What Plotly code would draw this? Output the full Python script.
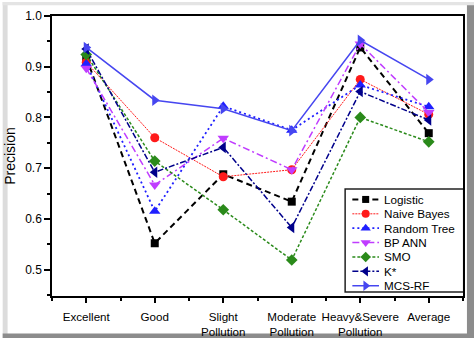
import plotly.graph_objects as go

categories = ["Excellent", "Good", "Slight<br>Pollution", "Moderate<br>Pollution",
              "Heavy&Severe<br>Pollution", "Average"]

logistic = [0.918, 0.552, 0.688, 0.634, 0.938, 0.769]
naive_bayes = [0.909, 0.760, 0.683, 0.697, 0.875, 0.806]
random_tree = [0.906, 0.615, 0.822, 0.775, 0.864, 0.821]
bp_ann = [0.897, 0.667, 0.759, 0.697, 0.945, 0.810]
smo = [0.924, 0.714, 0.618, 0.519, 0.800, 0.752]
k_star = [0.935, 0.692, 0.741, 0.583, 0.851, 0.795]
mcs_rf = [0.938, 0.834, 0.817, 0.774, 0.952, 0.875]

series = [
    ("Logistic", logistic, "black", "6px,4px", 2, "square", 8),
    ("Naive Bayes", naive_bayes, "#ff1a1a", "2px,1px", 1, "circle", 9),
    ("Random Tree", random_tree, "#1f1fff", "2px,3px", 1.8, "triangle-up", 10),
    ("BP ANN", bp_ann, "#c03cff", "7px,3px,2px,3px", 1.5, "triangle-down", 10),
    ("SMO", smo, "#2a8a1a", "3px,2px", 1.5, "diamond", 9),
    ("K*", k_star, "#00008b", "6px,2px,2px,2px", 1.5, "triangle-left", 10),
    ("MCS-RF", mcs_rf, "#4646f0", "solid", 1.5, "triangle-right", 10),
]

x_pos = list(range(len(categories)))

fig = go.Figure()
for name, vals, color, dash, width, symbol, size in series:
    fig.add_trace(go.Scatter(
        x=x_pos, y=vals, name=name, mode="lines+markers",
        line=dict(color=color, dash=dash, width=width),
        marker=dict(symbol=symbol, size=size, color=color),
        showlegend=False,
    ))

# compact legend drawn on a pixel-scaled overlay axis (plot area is 416 x 292 px)
LEG_BOX = (296.7, 416.7, 4.3, 111.7)
LEG_TOP_ROW, LEG_STEP = 100.7, 15.0
LEG_LINE = (304, 331)
LEG_TEXT_X = 334.5

shapes = [dict(type="rect", xref="x2", yref="y2",
               x0=LEG_BOX[0], x1=LEG_BOX[1], y0=LEG_BOX[2], y1=LEG_BOX[3],
               fillcolor="white", line=dict(color="#222", width=1.5), layer="below")]
annotations = []
for i, (name, vals, color, dash, width, symbol, size) in enumerate(series):
    ry = LEG_TOP_ROW - i * LEG_STEP
    fig.add_trace(go.Scatter(
        x=[LEG_LINE[0], LEG_LINE[1]], y=[ry, ry], mode="lines",
        line=dict(color=color, dash=dash, width=width),
        xaxis="x2", yaxis="y2", showlegend=False, hoverinfo="skip",
    ))
    fig.add_trace(go.Scatter(
        x=[(LEG_LINE[0] + LEG_LINE[1]) / 2], y=[ry], mode="markers",
        marker=dict(symbol=symbol, size=size - 1, color=color),
        xaxis="x2", yaxis="y2", showlegend=False, hoverinfo="skip",
    ))
    annotations.append(dict(x=LEG_TEXT_X, y=ry, xref="x2", yref="y2", text=name,
                            showarrow=False, xanchor="left", yanchor="middle",
                            font=dict(size=11.7, color="black")))

# light frame around the figure
frame = [
    (-0.12, -0.108, -0.15, 1.05, "#dcdcdc"),
    (1.0096, 1.03, -0.15, 1.05, "#8c8c8c"),
    (-0.12, 1.03, -0.15, -0.1336, "#8c8c8c"),
    (-0.12, 1.03, 1.038, 1.05, "#e4e4e4"),
]
shapes += [dict(type="rect", xref="paper", yref="paper", x0=a, x1=b, y0=c, y1=d,
                fillcolor=col, line=dict(width=0), layer="below")
           for a, b, c, d, col in frame]

fig.update_layout(
    width=474, height=347,
    margin=dict(l=49, r=9, t=13, b=42),
    paper_bgcolor="white", plot_bgcolor="white",
    font=dict(family="Liberation Sans, Arial, sans-serif", size=12, color="black"),
    shapes=shapes,
    annotations=annotations,
    showlegend=False,
    xaxis=dict(
        range=[-0.5, 5.5], tickmode="array", tickvals=x_pos, ticktext=categories,
        tickfont=dict(size=11.6), ticklabelstandoff=4,
        showgrid=False, zeroline=False,
        showline=True, linecolor="black", linewidth=1.5, mirror=True,
        ticks="outside", ticklen=5, tickwidth=1.5, tickcolor="black",
        minor=dict(tickvals=[i + 0.5 for i in range(-1, 6)], ticks="outside",
                   ticklen=3, tickwidth=1.5, tickcolor="black"),
    ),
    yaxis=dict(
        range=[0.448, 1.0], tickmode="array",
        tickvals=[0.5, 0.6, 0.7, 0.8, 0.9, 1.0],
        ticktext=["0.5", "0.6", "0.7", "0.8", "0.9", "1.0"],
        showgrid=False, zeroline=False,
        showline=True, linecolor="black", linewidth=1.5, mirror=True,
        ticks="outside", ticklen=6, tickwidth=1.5, tickcolor="black",
        minor=dict(tickvals=[0.45, 0.55, 0.65, 0.75, 0.85, 0.95], ticks="outside",
                   ticklen=3, tickwidth=1.5, tickcolor="black"),
        title=dict(text="Precision", standoff=6),
    ),
    xaxis2=dict(range=[0, 416], overlaying="x", anchor="y2", visible=False, fixedrange=True),
    yaxis2=dict(range=[0, 292], overlaying="y", anchor="x2", visible=False, fixedrange=True),
)

fig.write_html("out.html")
